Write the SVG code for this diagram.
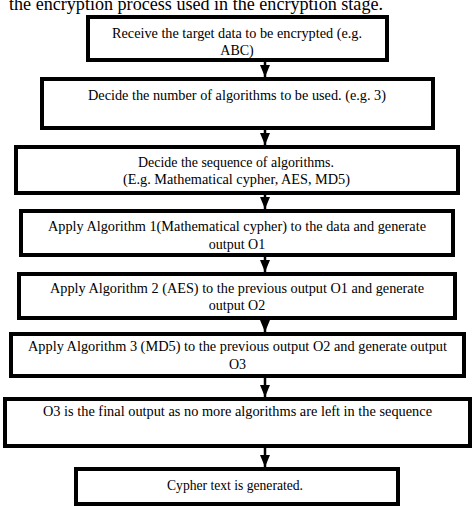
<svg xmlns="http://www.w3.org/2000/svg" width="474" height="506" viewBox="0 0 474 506">
<defs>
<style>
.box{fill:#fff;stroke:#000;stroke-width:4}
.t{font-family:"Liberation Serif","Times New Roman",serif;font-size:14px;fill:#000;text-anchor:middle}
.h{font-family:"Liberation Serif","Times New Roman",serif;font-size:18px;fill:#000}
.c{stroke:#000;stroke-width:2.5;fill:none}
</style>
<marker id="ah" viewBox="0 0 12 10" refX="12" refY="5" markerWidth="12" markerHeight="10" markerUnits="userSpaceOnUse" orient="auto">
<path d="M0,0 L12,5 L0,10 Z" fill="#000"/>
</marker>
</defs>
<rect width="474" height="506" fill="#fff"/>
<text class="h" x="9" y="10" textLength="374" lengthAdjust="spacingAndGlyphs">the encryption process used in the encryption stage.</text>
<g id="connectors">
<line class="c" x1="265" y1="62" x2="265" y2="77" marker-end="url(#ah)"/>
<line class="c" x1="265" y1="130" x2="265" y2="145" marker-end="url(#ah)"/>
<line class="c" x1="265" y1="195" x2="265" y2="209" marker-end="url(#ah)"/>
<line class="c" x1="265" y1="257" x2="265" y2="272" marker-end="url(#ah)"/>
<line class="c" x1="265" y1="320" x2="265" y2="332" marker-end="url(#ah)"/>
<line class="c" x1="265" y1="378" x2="265" y2="397" marker-end="url(#ah)"/>
<line class="c" x1="265" y1="448" x2="265" y2="467" marker-end="url(#ah)"/>
</g>
<g id="n1"><rect class="box" x="88" y="17" width="299" height="43"/>
<text class="t" x="237" y="38" textLength="250" lengthAdjust="spacingAndGlyphs">Receive the target data to be encrypted (e.g.</text>
<text class="t" x="237" y="55">ABC)</text></g>
<g id="n2"><rect class="box" x="42" y="79" width="391" height="49"/>
<text class="t" x="237" y="100" textLength="298" lengthAdjust="spacingAndGlyphs">Decide the number of algorithms to be used. (e.g. 3)</text></g>
<g id="n3"><rect class="box" x="16" y="147" width="442" height="46"/>
<text class="t" x="236" y="167" textLength="196" lengthAdjust="spacingAndGlyphs">Decide the sequence of algorithms.</text>
<text class="t" x="236.5" y="184" textLength="227" lengthAdjust="spacingAndGlyphs">(E.g. Mathematical cypher, AES, MD5)</text></g>
<g id="n4"><rect class="box" x="21" y="211" width="432" height="44"/>
<text class="t" x="237" y="231" textLength="378" lengthAdjust="spacingAndGlyphs">Apply Algorithm 1(Mathematical cypher) to the data and generate</text>
<text class="t" x="237" y="249">output O1</text></g>
<g id="n5"><rect class="box" x="19" y="274" width="436" height="44"/>
<text class="t" x="237" y="293" textLength="374" lengthAdjust="spacingAndGlyphs">Apply Algorithm 2 (AES) to the previous output O1 and generate</text>
<text class="t" x="237" y="310">output O2</text></g>
<g id="n6"><rect class="box" x="11" y="334" width="453" height="42"/>
<text class="t" x="237.5" y="351" textLength="419" lengthAdjust="spacingAndGlyphs">Apply Algorithm 3 (MD5) to the previous output O2 and generate output</text>
<text class="t" x="237.5" y="369">O3</text></g>
<g id="n7"><rect class="box" x="5" y="399" width="465" height="47"/>
<text class="t" x="237.5" y="416" textLength="389" lengthAdjust="spacingAndGlyphs">O3 is the final output as no more algorithms are left in the sequence</text></g>
<g id="n8"><rect class="box" x="76" y="469" width="322" height="35"/>
<text class="t" x="235" y="490" textLength="136" lengthAdjust="spacingAndGlyphs">Cypher text is generated.</text></g>
</svg>
